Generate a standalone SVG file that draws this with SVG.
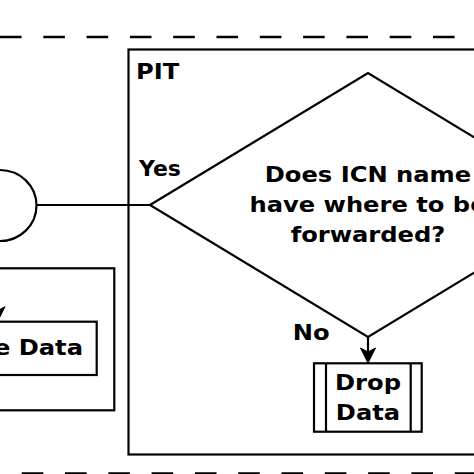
<svg xmlns="http://www.w3.org/2000/svg" width="474" height="474" viewBox="0 0 474 474">
<defs>
<style>
.ln{fill:none;stroke:#000;stroke-width:2.2}
.dash{fill:none;stroke:#000;stroke-width:2.4;stroke-dasharray:21.6 21.7}
.sh{fill:#fff;stroke:#000;stroke-width:2.2}
.t{font-family:"DejaVu Sans","Verdana",sans-serif;font-weight:bold;font-size:22px;fill:#000}
.ah{fill:#000;stroke:#000;stroke-width:1}
</style>
</defs>
<rect width="474" height="474" fill="#fff"/>
<line class="dash" x1="0" y1="37" x2="474" y2="37"/>
<line class="dash" x1="-21.6" y1="473.5" x2="474" y2="473.5"/>
<g id="pit">
<rect class="ln" x="128.5" y="49.5" width="500" height="405"/>
<text class="t" transform="translate(136,78.5) scale(1.1,1)">PIT</text>
</g>
<g id="store">
<rect class="ln" x="-20" y="268.3" width="134.3" height="142"/>
<rect class="sh" x="-40" y="321.7" width="136.7" height="53.3"/>
<text class="t" text-anchor="end" transform="translate(83,355) scale(1.1,1)">e Data</text>
</g>
<g id="terminal">
<ellipse class="sh" cx="0" cy="205.5" rx="36.5" ry="35.5"/>
</g>
<g id="decision">
<polygon class="sh" points="150,205 368,73 586,205 368,337"/>
<text class="t" text-anchor="middle" transform="translate(368,181.5) scale(1.1,1)">Does ICN name</text>
<text class="t" text-anchor="middle" transform="translate(368,212) scale(1.1,1)">have where to be</text>
<text class="t" text-anchor="middle" transform="translate(368,242) scale(1.1,1)">forwarded?</text>
</g>
<g id="drop">
<rect class="sh" x="314" y="363.3" width="107.7" height="68.4"/>
<line class="ln" x1="326" y1="363.3" x2="326" y2="431.7"/>
<line class="ln" x1="410.7" y1="363.3" x2="410.7" y2="431.7"/>
<text class="t" text-anchor="middle" transform="translate(368,390) scale(1.1,1)">Drop</text>
<text class="t" text-anchor="middle" transform="translate(368,419.5) scale(1.1,1)">Data</text>
</g>
<g id="connectors">
<line class="ln" x1="36.5" y1="205" x2="150" y2="205"/>
<text class="t" transform="translate(139,176)">Yes</text>
<line class="ln" x1="368" y1="337" x2="368" y2="352"/>
<path class="ah" d="M368,363 L360.5,348 L368,352 L375.5,348 Z"/>
<text class="t" transform="translate(292.8,340) scale(1.1,1)">No</text>
<line class="ln" x1="-2.5" y1="280" x2="-2.5" y2="311"/>
<path class="ah" d="M-2.5,321.7 L-10,306.7 L-2.5,310.7 L5,306.7 Z"/>
</g>
</svg>
